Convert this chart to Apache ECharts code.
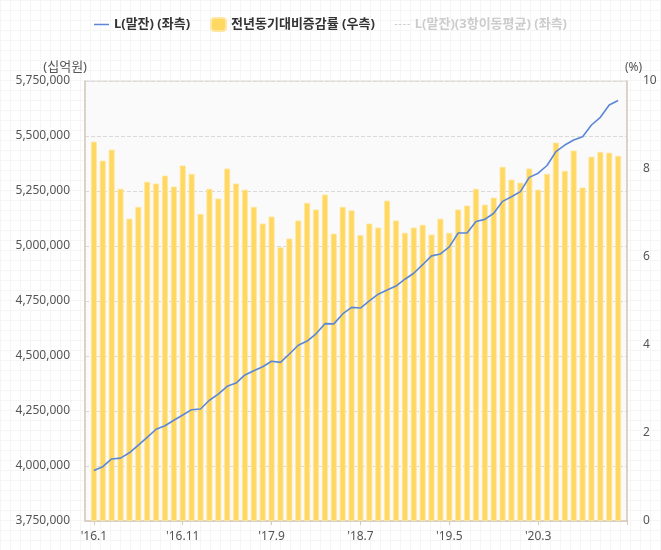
<!DOCTYPE html>
<html>
<head>
<meta charset="utf-8">
<script src="https://cdn.jsdelivr.net/npm/echarts@6/dist/echarts.min.js"></script>
<style>
  html, body { margin: 0; padding: 0; }
  body {
    background-color: #fff;
    background-image: linear-gradient(#f5f5f5 1px, transparent 1px), linear-gradient(90deg, #f5f5f5 1px, transparent 1px);
    background-size: 10px 10px;
  }
  #chart { width: 661px; height: 550px; }
</style>
</head>
<body>
<div id="chart"></div>
<script>
// 월별 카테고리 ('16.1 ~ '20.12)
const months = [
  "'16.1", "'16.2", "'16.3", "'16.4", "'16.5", "'16.6", "'16.7", "'16.8", "'16.9", "'16.10", "'16.11", "'16.12",
  "'17.1", "'17.2", "'17.3", "'17.4", "'17.5", "'17.6", "'17.7", "'17.8", "'17.9", "'17.10", "'17.11", "'17.12",
  "'18.1", "'18.2", "'18.3", "'18.4", "'18.5", "'18.6", "'18.7", "'18.8", "'18.9", "'18.10", "'18.11", "'18.12",
  "'19.1", "'19.2", "'19.3", "'19.4", "'19.5", "'19.6", "'19.7", "'19.8", "'19.9", "'19.10", "'19.11", "'19.12",
  "'20.1", "'20.2", "'20.3", "'20.4", "'20.5", "'20.6", "'20.7", "'20.8", "'20.9", "'20.10", "'20.11", "'20.12"
];

// L(말잔), 십억원 (좌측)
const lBalance = [
  3980000, 3997000, 4032000, 4036000, 4060000, 4095000, 4130000, 4167000, 4183000, 4208000, 4232000, 4256000,
  4259000, 4299000, 4327000, 4362000, 4377000, 4414000, 4433000, 4451000, 4476000, 4471000, 4509000, 4549000,
  4568000, 4601000, 4647000, 4646000, 4691000, 4721000, 4718000, 4751000, 4781000, 4800000, 4818000, 4849000,
  4876000, 4915000, 4955000, 4964000, 4996000, 5059000, 5059000, 5111000, 5121000, 5149000, 5203000, 5224000,
  5247000, 5312000, 5331000, 5366000, 5429000, 5459000, 5482000, 5497000, 5550000, 5585000, 5641000, 5661000
];

// 전년동기대비증감률, % (우측)
const yoyRate = [
  8.62, 8.19, 8.44, 7.55, 6.87, 7.14, 7.71, 7.67, 7.85, 7.60, 8.08, 7.89,
  6.98, 7.55, 7.33, 8.01, 7.67, 7.53, 7.14, 6.76, 6.92, 6.22, 6.42, 6.83,
  7.23, 7.08, 7.42, 6.53, 7.14, 7.06, 6.50, 6.76, 6.67, 7.28, 6.83, 6.55,
  6.67, 6.73, 6.51, 6.87, 6.55, 7.08, 7.17, 7.55, 7.19, 7.35, 8.05, 7.76,
  7.69, 8.01, 7.53, 7.89, 8.60, 7.96, 8.42, 7.58, 8.28, 8.39, 8.37, 8.30
];

const FONT = "'Noto Sans', 'Noto Sans CJK KR', sans-serif";
const axisColor = '#d5c9bc';
const labelColor = '#555';

// 범례 아이콘 (실선 / 점선)
const ICON_LINE = 'path://M0,0H15V1.5H0Z';
const ICON_DASH = 'path://M0,0H3V1H0Z M5,0H8V1H5Z M10,0H13V1H10Z M15,0H18V1H15Z';

// 양 끝에 빈 칸을 두어 막대가 축 끝에서 떨어지도록 함
const axisData = [''].concat(months, ['']);
const pad = arr => ['-'].concat(arr, ['-']);
const showTick = idx => idx >= 1 && (idx - 1) % 10 === 0;

const chart = echarts.init(document.getElementById('chart'), null, { renderer: 'canvas' });

chart.setOption({
  animation: false,
  textStyle: { fontFamily: FONT },
  legend: {
    top: 12,
    left: 'center',
    itemWidth: 15,
    itemHeight: 13,
    itemGap: 20,
    textStyle: { fontSize: 13, fontWeight: 'bold', color: '#333', fontFamily: FONT },
    inactiveColor: '#ccc',
    data: [
      { name: 'L(말잔) (좌측)', icon: ICON_LINE },
      { name: '전년동기대비증감률 (우측)', icon: 'roundRect' },
      { name: 'L(말잔)(3항이동평균) (좌측)', icon: ICON_DASH }
    ],
    selected: { 'L(말잔)(3항이동평균) (좌측)': false }
  },
  grid: {
    left: 85, right: 34, top: 81, bottom: 29,
    show: true,
    backgroundColor: '#fafafa',
    borderColor: '#e6e0d9',
    borderWidth: 1
  },
  xAxis: {
    type: 'category',
    boundaryGap: false,
    data: axisData,
    axisLine: { lineStyle: { color: axisColor, width: 1.5 } },
    axisTick: { interval: showTick, length: 4, lineStyle: { color: axisColor } },
    axisLabel: { interval: showTick, color: labelColor, fontSize: 12, margin: 10, fontFamily: FONT },
    splitLine: { show: false }
  },
  yAxis: [
    {
      type: 'value',
      name: '(십억원)',
      nameLocation: 'end',
      nameGap: 7,
      nameTextStyle: { color: labelColor, fontSize: 13, align: 'right', padding: [0, -2, 0, 0], fontFamily: FONT },
      min: 3750000,
      max: 5750000,
      interval: 250000,
      axisLine: { show: true, lineStyle: { color: axisColor, width: 1.5 } },
      axisTick: { show: false },
      axisLabel: {
        color: labelColor, fontSize: 12, margin: 15, fontFamily: FONT,
        formatter: v => v.toLocaleString('en-US')
      },
      splitLine: { lineStyle: { color: '#d9d9d9', type: 'dashed' } }
    },
    {
      type: 'value',
      name: '(%)',
      nameLocation: 'end',
      nameGap: 7,
      nameTextStyle: { color: labelColor, fontSize: 12, align: 'left', padding: [0, 0, 0, -2], fontFamily: FONT },
      min: 0,
      max: 10,
      interval: 2,
      axisLine: { show: true, lineStyle: { color: axisColor, width: 1.5 } },
      axisTick: { show: false },
      axisLabel: { color: labelColor, fontSize: 12, margin: 16, fontFamily: FONT },
      splitLine: { show: false }
    }
  ],
  series: [
    {
      name: '전년동기대비증감률 (우측)',
      type: 'bar',
      yAxisIndex: 1,
      barWidth: 6,
      itemStyle: { color: '#ffd862', borderColor: '#ffe7a3', borderWidth: 0.8 },
      data: pad(yoyRate),
      z: 1
    },
    {
      name: 'L(말잔) (좌측)',
      type: 'line',
      yAxisIndex: 0,
      symbol: 'none',
      lineStyle: { color: '#5b87d6', width: 1.6 },
      itemStyle: { color: '#5b87d6' },
      data: pad(lBalance),
      z: 3
    },
    {
      name: 'L(말잔)(3항이동평균) (좌측)',
      type: 'line',
      yAxisIndex: 0,
      symbol: 'none',
      lineStyle: { color: '#999', width: 1, type: 'dashed' },
      itemStyle: { color: '#999' },
      data: []
    }
  ]
});
</script>
</body>
</html>
